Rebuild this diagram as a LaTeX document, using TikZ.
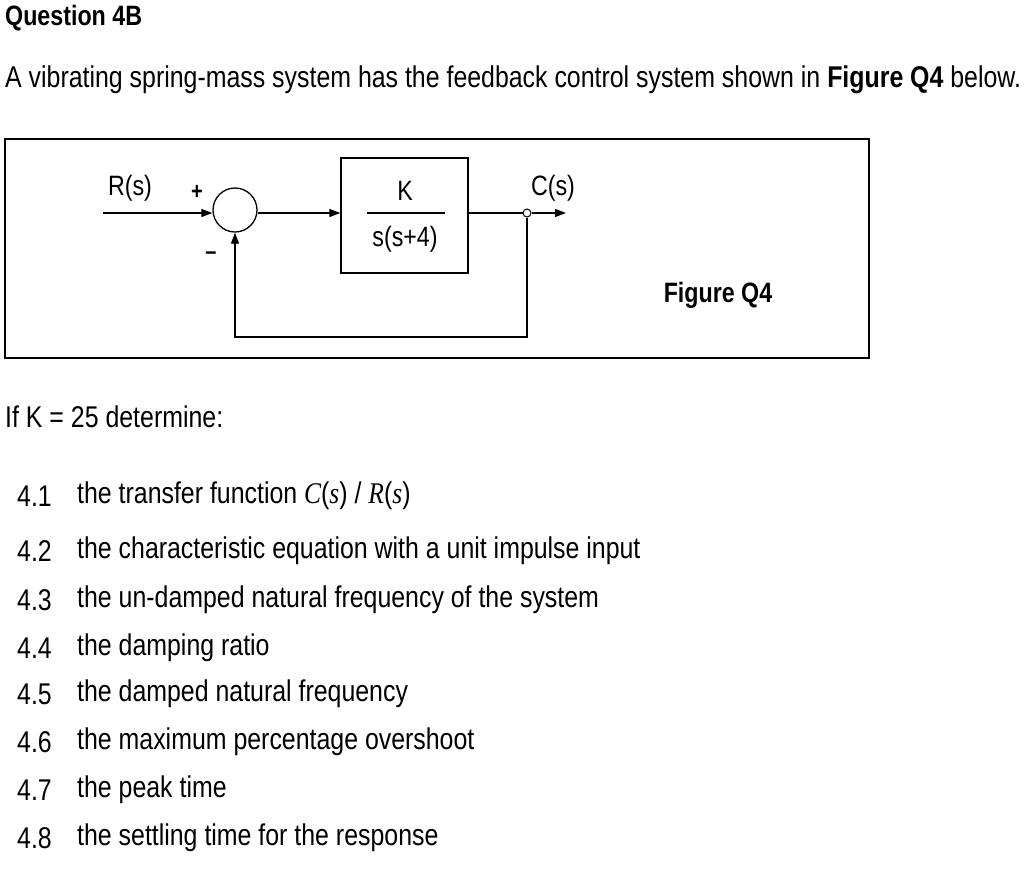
\documentclass[tikz,border=0pt]{standalone}
\usepackage{fontspec}
\setmainfont{Liberation Sans}[FakeStretch=0.83]
\newfontfamily\tms{Liberation Serif}[FakeStretch=0.85]
\usetikzlibrary{arrows.meta}
\begin{document}
\begin{tikzpicture}[x=1pt,y=-1pt,
  txt/.style={anchor=west,inner sep=0pt,font=\fontsize{30}{33}\selectfont},
  lbl/.style={inner sep=0pt,font=\fontsize{28}{31}\selectfont},
  ln/.style={line width=1.3pt},
  arr/.style={ln,-{Triangle[length=11pt,width=8pt]}}]
\useasboundingbox (0,0) rectangle (1024,868);
\node[txt,font=\bfseries\fontsize{28}{31}\selectfont] (q) at (5,18) {Question 4B};
\node[txt] (l1) at (5,80) {A vibrating spring-mass system has the feedback control system shown in \textbf{Figure Q4} below.};
\draw[line width=1.2pt] (5,139) rectangle (869,358);
\node[lbl] (r) at (130,188) {R(s)};
\node[lbl,font=\bfseries\fontsize{24}{26}\selectfont] (plus) at (197,192) {+};
\node[lbl,font=\bfseries\fontsize{24}{26}\selectfont] (minus) at (211,256) {–};
\coordinate (in) at (103,213);
\node[draw,ln,circle,minimum size=44pt,inner sep=0pt] (sum) at (235,210) {};
\node[draw,ln,minimum width=127pt,minimum height=115pt] (g) at (404.5,215.5) {};
\node[lbl] (k) at (405,191) {K};
\draw[ln] (367,213) -- (445,213);
\node[lbl] (den) at (405,239) {s(s+4)};
\node[draw,circle,line width=1pt,fill=white,minimum size=8pt,inner sep=0pt] (tap) at (527,213) {};
\coordinate (out) at (566,213);
\node[lbl] (c) at (553,188) {C(s)};
\coordinate (b1) at (527,337);
\coordinate (b2) at (235,337);
\draw[arr] (in) -- (sum.west |- in);
\draw[arr] (sum.east |- in) -- (g.west |- in);
\draw[ln] (g.east |- in) -- (tap);
\draw[arr] (tap) -- (out);
\draw[arr] (tap.south) -- (b1) -- (b2) -- (sum.south);
\node[lbl,font=\bfseries\fontsize{28}{31}\selectfont] (fig) at (718,295) {Figure Q4};
\node[txt] (if) at (5,417) {If K = 25 determine:};
\foreach \n/\y/\t [count=\i] in {4.1/496/{the transfer function {\tms\itshape C}({\tms\itshape s}) / {\tms\itshape R}({\tms\itshape s})},
 4.2/551/the characteristic equation with a unit impulse input,
 4.3/600/the un-damped natural frequency of the system,
 4.4/648/the damping ratio,
 4.5/694/the damped natural frequency,
 4.6/742/the maximum percentage overshoot,
 4.7/790/the peak time,
 4.8/838/the settling time for the response}{
 \node[txt] (n\i) at (17,\y) {\n};
 \node[txt] (t\i) at (77,\y) {\t};
}
\end{tikzpicture}
\end{document}
